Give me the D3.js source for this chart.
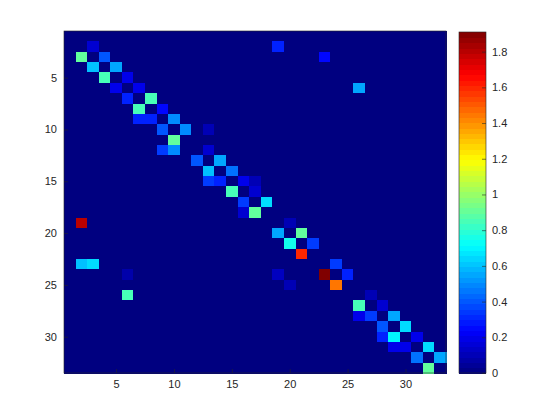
<!DOCTYPE html>
<html><head><meta charset="utf-8">
<script src="https://cdn.jsdelivr.net/npm/d3@7"></script>
<style>body{margin:0;background:#fff}svg{font-family:"Liberation Sans",Arial,sans-serif}</style>
</head><body><svg id="c" width="560" height="420"></svg>
<script>
const N = 33;
// nonzero cells: [row, col, value]
const rows = [2,3,3,4,4,5,5,6,6,7,7,8,8,9,9,9,10,10,10,11,12,12,12,13,13,14,14,15,15,15,15,16,16,17,17,18,18,19,19,20,20,21,21,22,23,23,23,24,24,24,24,25,25,26,26,27,27,28,28,28,29,29,30,30,30,31,31,31,32,32,33,2,3,6];
const cols = [3,2,4,3,5,4,6,5,7,6,8,7,9,7,8,10,9,11,13,10,9,10,13,12,14,13,15,13,14,16,17,15,17,16,18,16,17,20,2,19,21,20,22,21,24,2,3,19,23,25,6,20,24,27,6,26,28,26,27,29,28,30,28,29,31,29,30,32,31,33,32,19,23,26];
const vals = [0.15,0.9,0.4,0.6,0.55,0.85,0.2,0.2,0.2,0.3,0.85,0.85,0.25,0.3,0.3,0.5,0.4,0.5,0.1,0.9,0.35,0.5,0.15,0.4,0.55,0.6,0.45,0.35,0.3,0.2,0.1,0.85,0.15,0.35,0.65,0.15,0.9,0.1,1.8,0.55,0.9,0.75,0.35,1.6,0.35,0.6,0.65,0.12,1.91,0.3,0.08,0.1,1.45,0.1,0.85,0.85,0.15,0.2,0.35,0.55,0.4,0.65,0.3,0.7,0.2,0.2,0.2,0.65,0.45,0.55,0.9,0.3,0.25,0.55];
const axisTicks = [5,10,15,20,25,30];
const cbTicks = [0,0.2,0.4,0.6,0.8,1,1.2,1.4,1.6,1.8];
const vmax = 1.91;

function jet(t){
  t=Math.max(0,Math.min(1,t));
  const f=x=>Math.max(0,Math.min(1,x));
  const r=f(Math.min(4*t-1.5,-4*t+4.5)), g=f(Math.min(4*t-0.5,-4*t+3.5)), b=f(Math.min(4*t+0.5,-4*t+2.5));
  return d3.rgb(r*255,g*255,b*255)+"";
}
const matrix=[];
for(let r=1;r<=N;r++)for(let c=1;c<=N;c++)matrix.push({r,c,v:0});
rows.forEach((r,i)=>{matrix[(r-1)*N+(cols[i]-1)].v=vals[i];});

const svg=d3.select("#c");
const L=64,R=446,T=31,B=373;
const x=d3.scaleLinear().domain([0.5,N+0.5]).range([L,R]);
const y=d3.scaleLinear().domain([0.5,N+0.5]).range([T,B]);
const col=v=>jet(v/vmax);
svg.append("g").attr("shape-rendering","crispEdges").selectAll("rect").data(matrix).join("rect")
  .attr("x",d=>x(d.c-0.5)).attr("y",d=>y(d.r-0.5))
  .attr("width",x(1.5)-x(0.5)+0.6).attr("height",y(1.5)-y(0.5)+0.6)
  .attr("fill",d=>col(d.v));
const fc="#262626";
const xa=svg.append("g").attr("transform",`translate(0,${B})`).call(d3.axisBottom(x).tickValues(axisTicks).tickSizeInner(-4).tickSizeOuter(0).tickPadding(7));
const ya=svg.append("g").attr("transform",`translate(${L},0)`).call(d3.axisLeft(y).tickValues(axisTicks).tickSizeInner(-4).tickSizeOuter(0).tickPadding(7));
[xa,ya].forEach(a=>{a.select(".domain").remove();a.selectAll("line").attr("stroke",fc).attr("stroke-width",0.6);a.selectAll("text").attr("fill",fc).style("font-size","11px").style("font-family","Liberation Sans, Arial");});
svg.append("rect").attr("x",L).attr("y",T).attr("width",R-L).attr("height",B-T).attr("fill","none").attr("stroke",fc).attr("stroke-width",0.6);

// colorbar
const cx0=459,cx1=486;
const cy=d3.scaleLinear().domain([0,vmax]).range([B,32]);
const nC=64;
svg.append("g").attr("shape-rendering","crispEdges").selectAll("rect").data(d3.range(nC)).join("rect")
  .attr("x",cx0).attr("width",cx1-cx0)
  .attr("y",i=>cy((i+1)*vmax/nC)).attr("height",i=>cy(i*vmax/nC)-cy((i+1)*vmax/nC)+0.6)
  .attr("fill",i=>jet((i+0.5)/nC));
const ca=svg.append("g").attr("transform",`translate(${cx1},0)`).call(d3.axisRight(cy).tickValues(cbTicks).tickFormat(d3.format("~g")).tickSizeInner(-4).tickSizeOuter(0).tickPadding(6));
ca.select(".domain").remove();
ca.selectAll("line").attr("stroke",fc).attr("stroke-width",0.6);
ca.selectAll("text").attr("fill",fc).style("font-size","11px").style("font-family","Liberation Sans, Arial");
svg.append("rect").attr("x",cx0).attr("y",32).attr("width",cx1-cx0).attr("height",B-32).attr("fill","none").attr("stroke",fc).attr("stroke-width",0.6);
</script></body></html>
